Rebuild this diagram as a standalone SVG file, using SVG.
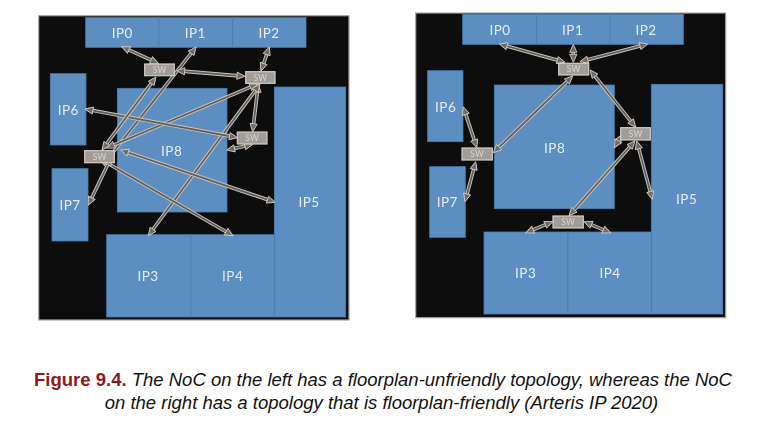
<svg xmlns="http://www.w3.org/2000/svg" width="768" height="428" viewBox="0 0 768 428">
<style>
.panel{fill:#0b0b0b;stroke:#aaa5a0;stroke-width:1.2}
.ip{fill:#5b8ec1;stroke:#4f7fae;stroke-width:.8}
.l{font-family:Lato,"Open Sans",sans-serif;font-size:13.5px;letter-spacing:.5px;fill:#e6edf5;text-anchor:middle;dominant-baseline:central}
.sw{fill:#a09c98;stroke:#d8cdc4;stroke-width:1.2}
.s{font-family:Lato,"Open Sans",sans-serif;font-size:8.5px;fill:#d8d4d0;text-anchor:middle;dominant-baseline:central}
.o{stroke:#cbc3ba;stroke-width:3.6;fill:none}
.i{stroke:#5f5d5b;stroke-width:1.7;fill:none;marker-start:url(#h);marker-end:url(#h)}
.c{font-family:"Liberation Sans",Arial,sans-serif;font-size:18.5px;fill:#111;text-anchor:middle}
.f{font-weight:bold;fill:#8b1a1a}
.t{font-style:italic}
</style>
<defs>
<marker id="h" markerUnits="userSpaceOnUse" markerWidth="14" markerHeight="12" refX="7" refY="6" orient="auto-start-reverse" overflow="visible"><polygon points="2,2.4 10,6 2,9.6" fill="#6e6b68" stroke="#d0c8bf" stroke-width=".9"/></marker>
<filter id="b" x="-2%" y="-2%" width="104%" height="104%"><feGaussianBlur stdDeviation=".45"/></filter>
</defs>
<rect width="768" height="428" fill="#fff"/>
<g filter="url(#b)">
<rect class="panel" x="38.7" y="15.7" width="310.3" height="304.3"/>
<rect class="panel" x="415.7" y="13" width="310" height="304.7"/>
<g id="a-ip0"><rect class="ip" x="85.7" y="17.7" width="73.3" height="29.6"/><text class="l" x="122.3" y="32.7">IP0</text></g>
<g id="a-ip1"><rect class="ip" x="159" y="17.7" width="73.7" height="29.6"/><text class="l" x="195.3" y="32.7">IP1</text></g>
<g id="a-ip2"><rect class="ip" x="232.7" y="17.7" width="73.3" height="29.6"/><text class="l" x="269" y="32.7">IP2</text></g>
<g id="a-ip6"><rect class="ip" x="50.3" y="73.7" width="35.7" height="71.3"/><text class="l" x="68.3" y="110">IP6</text></g>
<g id="a-ip7"><rect class="ip" x="52" y="168.7" width="36" height="72.3"/><text class="l" x="70" y="205">IP7</text></g>
<g id="a-ip8"><rect class="ip" x="117.3" y="88.3" width="109.7" height="123.7"/><text class="l" x="171.7" y="150.7">IP8</text></g>
<g id="a-ip5"><rect class="ip" x="274.3" y="87" width="71.4" height="230"/><text class="l" x="309" y="202">IP5</text></g>
<g id="a-ip3"><rect class="ip" x="106.7" y="234.7" width="84.3" height="82.3"/><text class="l" x="148" y="276">IP3</text></g>
<g id="a-ip4"><rect class="ip" x="191" y="234.7" width="83.3" height="82.3"/><text class="l" x="232.7" y="276">IP4</text></g>
<g id="b-ip0"><rect class="ip" x="462.7" y="14.3" width="74" height="30"/><text class="l" x="500" y="30">IP0</text></g>
<g id="b-ip1"><rect class="ip" x="536.7" y="14.3" width="73.3" height="30"/><text class="l" x="572.7" y="30">IP1</text></g>
<g id="b-ip2"><rect class="ip" x="610" y="14.3" width="73.3" height="30"/><text class="l" x="646" y="30">IP2</text></g>
<g id="b-ip6"><rect class="ip" x="427.7" y="70.7" width="35.3" height="71"/><text class="l" x="445.7" y="106.7">IP6</text></g>
<g id="b-ip7"><rect class="ip" x="429.7" y="166.7" width="35.6" height="70.6"/><text class="l" x="447.3" y="201.7">IP7</text></g>
<g id="b-ip8"><rect class="ip" x="494.3" y="85" width="120" height="123.7"/><text class="l" x="554.7" y="147.7">IP8</text></g>
<g id="b-ip5"><rect class="ip" x="651.3" y="84.3" width="71.4" height="229.7"/><text class="l" x="686.7" y="199.3">IP5</text></g>
<g id="b-ip3"><rect class="ip" x="484" y="232" width="84" height="82"/><text class="l" x="525.7" y="273.3">IP3</text></g>
<g id="b-ip4"><rect class="ip" x="568" y="232" width="83.3" height="82"/><text class="l" x="610" y="273.3">IP4</text></g>
<g id="connectors">
<line class="o" x1="124.4" y1="47.9" x2="155.6" y2="62.1"/><line class="i" x1="124.4" y1="47.9" x2="155.6" y2="62.1"/>
<line class="o" x1="194.2" y1="49.4" x2="107" y2="160"/><line class="i" x1="194.2" y1="49.4" x2="107" y2="160"/>
<line class="o" x1="179.7" y1="70.9" x2="242" y2="76.1"/><line class="i" x1="179.7" y1="70.9" x2="242" y2="76.1"/>
<line class="o" x1="268.3" y1="49.8" x2="262" y2="68.2"/><line class="i" x1="268.3" y1="49.8" x2="262" y2="68.2"/>
<line class="o" x1="254.9" y1="85.2" x2="109.5" y2="146.8"/><line class="i" x1="254.9" y1="85.2" x2="109.5" y2="146.8"/>
<line class="o" x1="258" y1="87" x2="253" y2="128.7"/><line class="i" x1="258" y1="87" x2="253" y2="128.7"/>
<line class="o" x1="258.2" y1="86.4" x2="150.1" y2="233.3"/><line class="i" x1="258.2" y1="86.4" x2="150.1" y2="233.3"/>
<line class="o" x1="87.9" y1="109.6" x2="234.4" y2="137.1"/><line class="i" x1="87.9" y1="109.6" x2="234.4" y2="137.1"/>
<line class="o" x1="229.6" y1="149.4" x2="249.8" y2="145.1"/><line class="i" x1="229.6" y1="149.4" x2="249.8" y2="145.1"/>
<line class="o" x1="123.5" y1="151" x2="272.2" y2="201.3"/><line class="i" x1="123.5" y1="151" x2="272.2" y2="201.3"/>
<line class="o" x1="102" y1="160" x2="230.4" y2="234.2"/><line class="i" x1="102" y1="160" x2="230.4" y2="234.2"/>
<line class="o" x1="110" y1="160" x2="89.6" y2="202.3"/><line class="i" x1="110" y1="160" x2="89.6" y2="202.3"/>
<line class="o" x1="154.2" y1="79.4" x2="103.8" y2="147.6"/><line class="i" x1="154.2" y1="79.4" x2="103.8" y2="147.6"/>
<line class="o" x1="502.2" y1="44.8" x2="562.1" y2="61.5"/><line class="i" x1="502.2" y1="44.8" x2="562.1" y2="61.5"/>
<line class="o" x1="573.3" y1="47.3" x2="573.3" y2="59.3"/><line class="i" x1="573.3" y1="47.3" x2="573.3" y2="59.3"/>
<line class="o" x1="644.8" y1="44.8" x2="582.9" y2="60.9"/><line class="i" x1="644.8" y1="44.8" x2="582.9" y2="60.9"/>
<line class="o" x1="570.5" y1="78.1" x2="495.5" y2="150.6"/><line class="i" x1="570.5" y1="78.1" x2="495.5" y2="150.6"/>
<line class="o" x1="591.9" y1="72.3" x2="633.8" y2="125"/><line class="i" x1="591.9" y1="72.3" x2="633.8" y2="125"/>
<line class="o" x1="464.2" y1="109.6" x2="475.8" y2="144.8"/><line class="i" x1="464.2" y1="109.6" x2="475.8" y2="144.8"/>
<line class="o" x1="474.9" y1="164.6" x2="465.8" y2="198.8"/><line class="i" x1="474.9" y1="164.6" x2="465.8" y2="198.8"/>
<line class="o" x1="620.2" y1="137.6" x2="615.8" y2="145.1"/><line class="i" x1="620.2" y1="137.6" x2="615.8" y2="145.1"/>
<line class="o" x1="633" y1="143.2" x2="571" y2="213.5"/><line class="i" x1="633" y1="143.2" x2="571" y2="213.5"/>
<line class="o" x1="637.5" y1="143.9" x2="651.5" y2="196.4"/><line class="i" x1="637.5" y1="143.9" x2="651.5" y2="196.4"/>
<line class="o" x1="549.9" y1="222.8" x2="528.5" y2="231.6"/><line class="i" x1="549.9" y1="222.8" x2="528.5" y2="231.6"/>
<line class="o" x1="586.8" y1="222.8" x2="607.9" y2="231.6"/><line class="i" x1="586.8" y1="222.8" x2="607.9" y2="231.6"/>
</g>
<g id="a-sw1"><rect class="sw" x="144.7" y="64" width="29.6" height="11.7"/><text class="s" x="159.5" y="70">SW</text></g>
<g id="a-sw2"><rect class="sw" x="245.7" y="71.7" width="29.3" height="11.6"/><text class="s" x="260.3" y="77.5">SW</text></g>
<g id="a-sw3"><rect class="sw" x="237.3" y="132" width="29.7" height="12"/><text class="s" x="252" y="138">SW</text></g>
<g id="a-sw4"><rect class="sw" x="84.7" y="150.7" width="29.6" height="12"/><text class="s" x="99.5" y="156.7">SW</text></g>
<g id="b-sw1"><rect class="sw" x="558.7" y="63.3" width="30" height="11.7"/><text class="s" x="573.5" y="69.2">SW</text></g>
<g id="b-sw2"><rect class="sw" x="620.7" y="127.7" width="29.6" height="12.3"/><text class="s" x="635.5" y="133.8">SW</text></g>
<g id="b-sw3"><rect class="sw" x="462" y="148" width="30.3" height="12"/><text class="s" x="477" y="154">SW</text></g>
<g id="b-sw4"><rect class="sw" x="553" y="216" width="30.3" height="12"/><text class="s" x="568" y="222">SW</text></g>
</g>
<text class="c" x="383" y="386"><tspan class="f">Figure 9.4.</tspan><tspan class="t"> The NoC on the left has a floorplan-unfriendly topology, whereas the NoC</tspan></text>
<text class="c t" x="381.5" y="409">on the right has a topology that is floorplan-friendly (Arteris IP 2020)</text>
</svg>
